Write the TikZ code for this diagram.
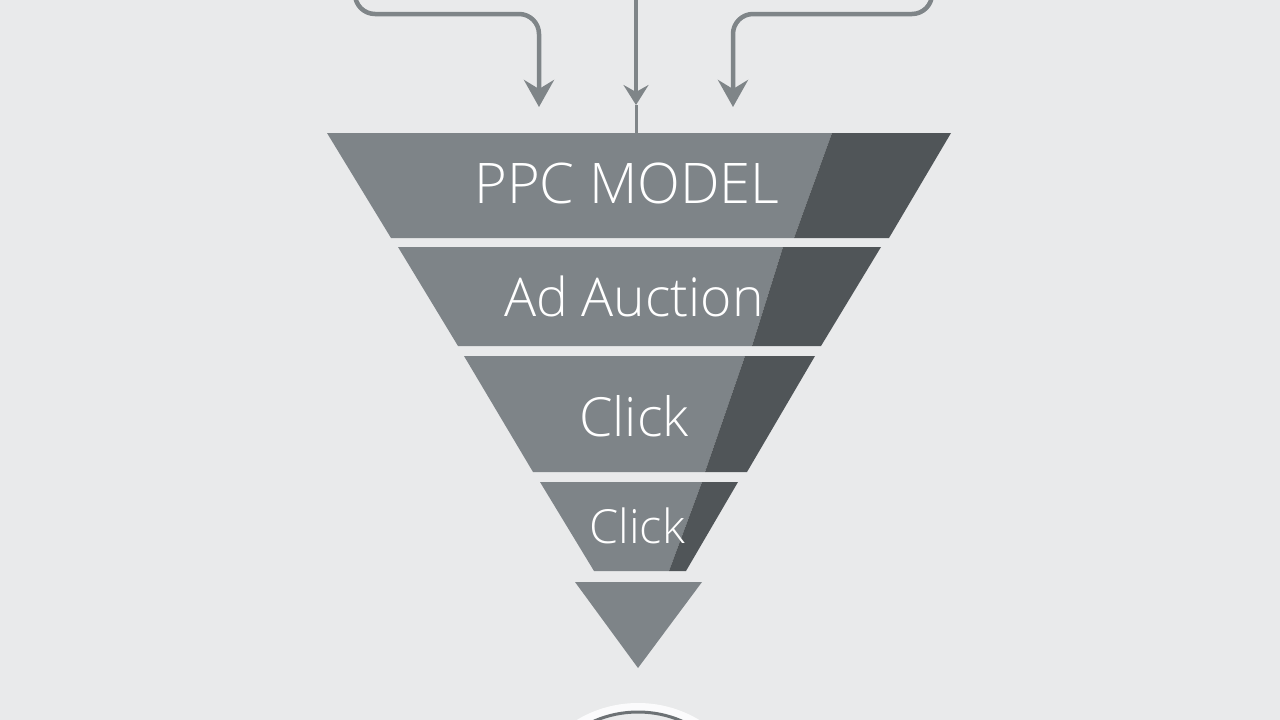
\documentclass[tikz,border=0pt]{standalone}
\usepackage{fontspec}
\setmainfont{Open Sans Light}
\usetikzlibrary{arrows.meta}
\definecolor{bg}{HTML}{E9EAEB}
\definecolor{band}{HTML}{7E8488}
\definecolor{dark}{HTML}{505558}
\definecolor{arrowc}{HTML}{7F8588}
\definecolor{ring}{HTML}{6C7174}
\begin{document}
\begin{tikzpicture}[x=1pt,y=-1pt,
  conn/.style={draw=arrowc, line width=4.5pt, rounded corners=20pt},
  bigtip/.style={-{Stealth[length=27pt,width=30pt,inset=9pt]}},
  smalltip/.style={-{Stealth[length=20pt,width=25pt,inset=7pt]}},
  bandfill/.style={fill=band},
  darkfill/.style={fill=dark},
  lbl/.style={text=white, inner sep=0pt, anchor=base}]
\useasboundingbox (0,0) rectangle (1280,720);
\clip (0,0) rectangle (1280,720);
\fill[bg] (0,0) rectangle (1280,720);

% funnel bands
\fill[bandfill] (327,133) -- (832,133) -- (794,238) -- (391,238) -- cycle;
\fill[darkfill] (832,133) -- (951,133) -- (889,238) -- (794,238) -- cycle;
\fill[bandfill] (398,247) -- (783,247) -- (752,346) -- (458,346) -- cycle;
\fill[darkfill] (783,247) -- (881,247) -- (821,346) -- (752,346) -- cycle;
\fill[bandfill] (464,356) -- (745,356) -- (705,472) -- (533,472) -- cycle;
\fill[darkfill] (745,356) -- (815,356) -- (747,472) -- (705,472) -- cycle;
\fill[bandfill] (540,482) -- (702,482) -- (669,571) -- (594,571) -- cycle;
\fill[darkfill] (702,482) -- (738,482) -- (686,571) -- (669,571) -- cycle;
\fill[bandfill] (575,582) -- (702,582) -- (638,668) -- cycle;

% labels
\node[lbl, font=\fontsize{56}{62}\selectfont] (ppc) at (627,203) {PPC MODEL};
\node[lbl, font=\fontsize{53.5}{60}\selectfont] (auction) at (634,316) {Ad Auction};
\node[lbl, font=\fontsize{54}{60}\selectfont] (click1) at (634,436) {Click};
\node[lbl, font=\fontsize{47}{52}\selectfont] (click2) at (637,543) {Click};

% arrows
\coordinate (lsrc) at (355,-40);
\coordinate (lend) at (539,107);
\coordinate (rsrc) at (932,-40);
\coordinate (rend) at (733,107);
\coordinate (csrc) at (636,-10);
\coordinate (cmid) at (636,105);
\coordinate (ftop) at (636,134);
\draw[conn,bigtip] (lsrc) |- (539,14) -- (lend);
\draw[conn,bigtip] (rsrc) |- (733,14) -- (rend);
\draw[conn,smalltip] (csrc) -- (cmid);
\draw[draw=arrowc, line width=3pt] (cmid) -- (ftop);

% bottom circle
\draw[white, line width=8pt, opacity=0.85] (638,822) circle (115);
\draw[ring, line width=3pt] (638,822) circle (110);
\end{tikzpicture}
\end{document}
